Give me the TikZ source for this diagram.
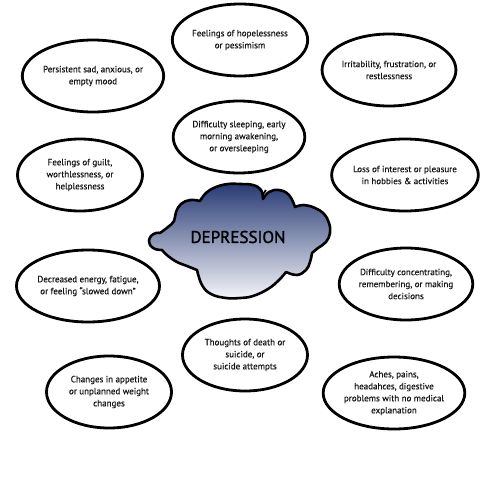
\documentclass[tikz,border=0pt]{standalone}
\usepackage{fontspec}
\setmainfont{PT Sans}[FakeBold=0.4]
\newfontfamily\depfont{PT Sans}[FakeBold=1.6]
\usetikzlibrary{shapes.geometric}
\definecolor{cloudtop}{RGB}{40,58,116}
\definecolor{cloudbot}{RGB}{245,246,250}
\definecolor{txt}{RGB}{20,20,20}
\tikzset{
  sym/.style={ellipse, draw=black, line width=2.8pt, fill=white, inner sep=0pt,
    minimum width=125pt, minimum height=72pt, align=center, text=txt,
    font=\fontsize{9}{12}\selectfont},
  cloudline/.style={line width=2.6pt, draw=black, line join=round},
}
\begin{document}
\begin{tikzpicture}[x=1pt,y=-1pt]
\useasboundingbox (0,0) rectangle (480,480);
\fill[white] (0,0) rectangle (480,480);
% cloud
\draw[cloudline, top color=cloudtop, bottom color=cloudbot]
  plot[smooth, tension=0.7] coordinates {(162,250) (155,249) (150,245) (149,241) (151,236) (156,233) (160,233)}
  -- plot[smooth, tension=0.7] coordinates {(160,233) (168,227) (174,221) (176,212) (181,204) (190,200) (200,201)}
  -- plot[smooth, tension=0.7] coordinates {(200,201) (206,193) (216,187) (228,184) (240,184) (253,185) (261,190) (263,199)}
  -- plot[smooth, tension=0.7] coordinates {(263,199) (269,192) (279,190) (289,195) (295,207)}
  -- plot[smooth, tension=0.7] coordinates {(295,207) (304,205) (315,208) (324,214) (329,223) (330,233) (326,242) (318,248) (312,253)}
  -- plot[smooth, tension=0.7] coordinates {(312,253) (310,262) (306,270) (297,275) (286,272)}
  -- plot[smooth, tension=0.7] coordinates {(286,272) (279,280) (268,289) (253,296) (240,298) (226,298) (211,294) (202,285) (197,270)}
  -- plot[smooth, tension=0.7] coordinates {(197,270) (187,266) (177,262) (168,256) (162,250)}
  -- cycle;
\draw[line width=1.8pt] (263,199) .. controls (262,195) and (264,192) .. (266,190);
\node[font=\depfont\fontsize{17}{20}\selectfont, text=black] (dep) at (238,237) {DEPRESSION};
% symptoms
\node[sym] (hope)  at (240,40)  {Feelings of hopelessness\\or pessimism};
\node[sym] (sad)   at (93,76)   {Persistent sad, anxious, or\\empty mood};
\node[sym] (irr)   at (389,70)  {Irritability, frustration, or\\restlessness};
\node[sym] (sleep) at (239,137) {Difficulty sleeping, early\\morning awakening,\\or oversleeping};
\node[sym] (guilt) at (80,175)  {Feelings of guilt,\\worthlessness, or\\helplessness};
\node[sym] (loss)  at (405,175) {Loss of interest or pleasure\\in hobbies \& activities};
\node[sym] (energy) at (88,286) {Decreased energy, fatigue,\\or feeling “slowed down”};
\node[sym] (conc)  at (406,284) {Difficulty concentrating,\\remembering, or making\\decisions};
\node[sym] (death) at (245,355) {Thoughts of death or\\suicide, or\\suicide attempts};
\node[sym] (app)   at (109,392) {Changes in appetite\\or unplanned weight\\changes};
\node[sym] (aches) at (394,393) {Aches, pains,\\headahces, digestive\\problems with no medical\\explanation};
\end{tikzpicture}
\end{document}
